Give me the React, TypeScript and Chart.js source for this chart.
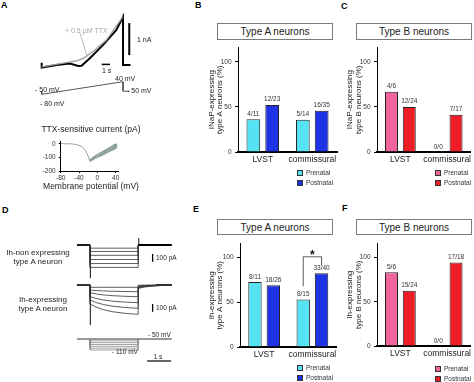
import React, { useEffect, useRef } from "react";
import { Chart, registerables } from "chart.js";
Chart.register(...registerables);

const FONT = "'Liberation Sans', Arial, sans-serif";

// ---------------- Bar chart data (B, C, E, F) ----------------
const groups = ["LVST", "commissural"];
const yTickValues = [0, 50, 100];
const Y_MAX = 116;

const inapTypeAPre = [36.4, 35.7];
const inapTypeAPreLabels = ["4/11", "5/14"];
const inapTypeAPost = [52.2, 45.7];
const inapTypeAPostLabels = ["12/23", "16/35"];

const inapTypeBPre = [66.7, 0];
const inapTypeBPreLabels = ["4/6", "0/0"];
const inapTypeBPost = [50.0, 41.2];
const inapTypeBPostLabels = ["12/24", "7/17"];

const ihTypeAPre = [72.7, 53.3];
const ihTypeAPreLabels = ["8/11", "8/15"];
const ihTypeAPost = [69.2, 82.5];
const ihTypeAPostLabels = ["18/26", "33/40"];

const ihTypeBPre = [83.3, 0];
const ihTypeBPreLabels = ["5/6", "0/0"];
const ihTypeBPost = [62.5, 94.4];
const ihTypeBPostLabels = ["15/24", "17/18"];

const sigGroupIndex = 1;
const sigLevel = 101;
const sigMark = "*";

// ---------------- Panel A data ----------------
// time (s), current (nA)
const ttxRamp = [[0, -0.03], [1.2, 0.03], [2.6, 0.09], [4.2, 0.16], [5.0, 0.24], [6.2, 0.45], [7.8, 0.81], [9.8, 1.54]];
const controlRamp = [[0, 0.1], [0, -0.05], [1.8, 0.03], [3.4, 0.08], [4.4, 0.0], [4.8, 0.01], [5.8, 0.24], [7.4, 0.66], [9.0, 1.13], [9.8, 1.54], [9.8, 0.03], [10.7, 0.03]];
const ttxPointer = [[4.61, 1.03], [5.42, 0.34]];
const nAScaleBar = [[10.55, 0.34], [10.55, 1.34]];
const secScaleBarA = [[7.23, 0.05], [8.23, 0.05]];
// time (s), membrane potential (mV)
const rampProtocol = [[0, -50], [0, -80], [9.8, 40], [9.8, -50], [10.6, -50]];

// TTX-sensitive current: membrane potential (mV), current (pA)
const ttxIV = [
  [-80, 0], [-76, 1], [-72, 0], [-68, -1], [-64, 0], [-60, -1], [-56, -2], [-52, -3], [-48, -5], [-44, -8],
  [-40, -12], [-36, -18], [-32, -27], [-29, -37], [-26, -50], [-24, -62], [-22, -76], [-20, -92], [-18, -110],
  [-17, -124], [-16, -130], [-15, -112], [-14, -128], [-13, -106], [-12, -124], [-11, -100], [-10, -120],
  [-9, -96], [-8, -116], [-7, -90], [-6, -112], [-5, -86], [-4, -108], [-3, -82], [-2, -104], [-1, -78],
  [0, -100], [1, -74], [2, -98], [3, -70], [4, -95], [5, -66], [6, -92], [7, -62], [8, -90], [9, -58],
  [10, -88], [11, -55], [12, -84], [13, -52], [14, -80], [15, -48], [16, -77], [17, -45], [18, -73],
  [19, -40], [20, -70], [21, -36], [22, -66], [23, -32], [24, -62], [25, -28], [26, -58], [27, -25],
  [28, -55], [29, -20], [30, -52], [31, -16], [32, -50], [33, -12], [34, -46], [35, -8], [36, -44],
  [37, -4], [38, -40], [39, -2], [40, -38], [41, 0], [42, -30],
];
const ivXTicks = [-80, -40, 0, 40];
const ivYTicks = [0, -100, -200];

// ---------------- Panel D data ----------------
const stepOn = 0.55;
const stepOff = 2.55;
const sweepEnd = 3.95;
// Ih-non expressing neuron: steady current at each step (pA)
const nonIhLevels = [-41, -84, -134, -188, -241, -291];
const nonIhOnTransient = [[0.56, -41], [0.56, -430]];
const nonIhOffTransient = [[2.55, 0], [2.56, 90], [2.58, 0]];
// Ih-expressing neuron: time (s), current (pA)
const ihSweeps = [
  [[0.55, -30], [0.8, -30], [1.1, -30], [1.5, -30], [2.0, -30], [2.55, -30], [2.55, -4], [2.8, -2], [3.1, -1], [3.5, 0], [3.95, 0]],
  [[0.55, -65], [0.8, -72], [1.1, -77], [1.5, -81], [2.0, -85], [2.55, -87], [2.55, -12], [2.8, -7], [3.1, -4], [3.5, -2], [3.95, 0]],
  [[0.55, -100], [0.8, -116], [1.1, -129], [1.5, -139], [2.0, -147], [2.55, -152], [2.55, -20], [2.8, -12], [3.1, -7], [3.5, -3], [3.95, 0]],
  [[0.55, -152], [0.8, -175], [1.1, -195], [1.5, -211], [2.0, -222], [2.55, -230], [2.55, -28], [2.8, -17], [3.1, -10], [3.5, -4], [3.95, 0]],
  [[0.55, -195], [0.8, -227], [1.1, -254], [1.5, -276], [2.0, -292], [2.55, -303], [2.55, -36], [2.8, -22], [3.1, -13], [3.5, -5], [3.95, 0]],
  [[0.55, -247], [0.8, -287], [1.1, -321], [1.5, -348], [2.0, -368], [2.55, -381], [2.55, -45], [2.8, -27], [3.1, -16], [3.5, -7], [3.95, 0]],
];
const ihOnTransient = [[0.56, -30], [0.56, -520]];
// voltage steps (mV)
const holdingPotential = -50;
const stepPotentials = [-60, -70, -80, -90, -100, -110];
const pAScaleBarUpper = [[3.15, -117], [3.15, -217]];
const pAScaleBarLower = [[3.15, -247], [3.15, -347]];
const secScaleBarD = [[2.92, -170], [3.92, -170]];

// ---------------- Colours ----------------
const C_PRE_A = "#55E3F3";
const C_POST_A = "#1E32E6";
const C_PRE_B = "#F0649E";
const C_POST_B = "#EE1C24";

// ---------------- Helpers ----------------
const pts = (arr: number[][]) => arr.map(([x, y]) => ({ x, y }));
const line = (arr: number[][], color: string, width: number, axis = "y") => ({
  data: pts(arr),
  showLine: true,
  pointRadius: 0,
  borderColor: color,
  borderWidth: width,
  yAxisID: axis,
  fill: false,
  tension: 0,
});
const hidden = (min: number, max: number) => ({ type: "linear", min, max, display: false });
const baseOpts = {
  responsive: false,
  animation: false,
  events: [],
  plugins: { legend: { display: false }, tooltip: { enabled: false } },
};

const barValueLabels = {
  id: "barValueLabels",
  afterDatasetsDraw(chart: any) {
    const ctx = chart.ctx;
    ctx.save();
    ctx.font = `6.5px ${FONT}`;
    ctx.fillStyle = "#333";
    ctx.textAlign = "center";
    ctx.textBaseline = "bottom";
    chart.data.datasets.forEach((ds: any, di: number) => {
      const meta = chart.getDatasetMeta(di);
      meta.data.forEach((bar: any, i: number) => {
        const lbl = ds.valueLabels && ds.valueLabels[i];
        if (lbl) ctx.fillText(lbl, bar.x, bar.y - 2);
      });
    });
    ctx.restore();
  },
};

const sigBracket = {
  id: "sigBracket",
  afterDatasetsDraw(chart: any) {
    const ctx = chart.ctx;
    const y = chart.scales.y;
    const a = chart.getDatasetMeta(0).data[sigGroupIndex];
    const b = chart.getDatasetMeta(1).data[sigGroupIndex];
    const top = y.getPixelForValue(sigLevel);
    ctx.save();
    ctx.strokeStyle = "#333";
    ctx.lineWidth = 0.8;
    ctx.beginPath();
    ctx.moveTo(a.x, a.y - 13);
    ctx.lineTo(a.x, top);
    ctx.lineTo(b.x, top);
    ctx.lineTo(b.x, b.y - 8);
    ctx.stroke();
    ctx.font = `bold 12px ${FONT}`;
    ctx.fillStyle = "#111";
    ctx.textAlign = "center";
    ctx.textBaseline = "alphabetic";
    ctx.fillText(sigMark, (a.x + b.x) / 2, top + 2);
    ctx.restore();
  },
};

function barConfig(p: any) {
  const ds = (label: string, data: number[], color: string, labels: string[]) => ({
    label,
    data,
    backgroundColor: color,
    borderColor: "#222",
    borderWidth: 1,
    valueLabels: labels,
    categoryPercentage: 0.76,
    barPercentage: 0.73,
  });
  return {
    type: "bar",
    data: {
      labels: groups,
      datasets: [ds("Prenatal", p.pre, p.preColor, p.preLabels), ds("Postnatal", p.post, p.postColor, p.postLabels)],
    },
    options: {
      ...baseOpts,
      layout: { padding: { top: p.padTop, right: p.padRight, left: 0, bottom: 0 } },
      scales: {
        x: {
          grid: { display: false, drawTicks: false },
          border: { display: true, color: "#000", width: 2 },
          ticks: { font: { family: FONT, size: 8.5 }, color: "#222", padding: 3, maxRotation: 0, autoSkip: false },
          afterFit: (s: any) => { s.height = p.xHeight; },
        },
        y: {
          min: 0,
          max: Y_MAX,
          grid: { display: true, drawOnChartArea: false, drawTicks: true, tickLength: 3, color: "#000" },
          border: { display: true, color: "#000", width: 1 },
          ticks: { font: { family: FONT, size: 6.5 }, color: "#333", padding: 3.5 },
          afterBuildTicks: (s: any) => { s.ticks = yTickValues.map((v) => ({ value: v })); },
          afterFit: (s: any) => { s.width = p.yWidth; },
          title: {
            display: true,
            text: p.yTitle,
            font: { family: FONT, size: 8, lineHeight: 1.05 },
            color: "#222",
            padding: { top: p.titlePad, bottom: 0 },
          },
        },
      },
    },
    plugins: p.bracket ? [barValueLabels, sigBracket] : [barValueLabels],
  };
}

const rampConfig = {
  type: "scatter",
  data: {
    datasets: [
      line(ttxRamp, "#9c9c9c", 1.3),
      line(controlRamp, "#000", 2),
      line(ttxPointer, "#aaa", 0.8),
      line(nAScaleBar, "#000", 2),
      line(secScaleBarA, "#000", 1.5),
      line(rampProtocol, "#555", 1, "yV"),
    ],
  },
  options: {
    ...baseOpts,
    layout: { padding: 0 },
    scales: { x: hidden(-1.41, 13.05), y: hidden(-1.125, 1.75), yV: hidden(-153.3, 722.9) },
  },
};

const ivConfig = {
  type: "scatter",
  data: { datasets: [line(ttxIV, "#8fa39b", 1)] },
  options: {
    ...baseOpts,
    layout: { padding: { top: 19, right: 37, left: 0, bottom: 0 } },
    scales: {
      x: {
        type: "linear",
        min: -80,
        max: 45,
        grid: { display: true, drawOnChartArea: false, drawTicks: true, tickLength: 2, color: "#000" },
        border: { display: true, color: "#000", width: 1 },
        ticks: { font: { family: FONT, size: 6.5 }, color: "#333", padding: 1 },
        afterBuildTicks: (s: any) => { s.ticks = ivXTicks.map((v) => ({ value: v })); },
        afterFit: (s: any) => { s.height = 21; },
      },
      y: {
        type: "linear",
        min: -200,
        max: 20,
        grid: { display: true, drawOnChartArea: false, drawTicks: true, tickLength: 2, color: "#000" },
        border: { display: true, color: "#000", width: 1 },
        ticks: { font: { family: FONT, size: 6.5 }, color: "#333", padding: 3 },
        afterBuildTicks: (s: any) => { s.ticks = ivYTicks.map((v) => ({ value: v })); },
        afterFit: (s: any) => { s.width = 35.7; },
      },
    },
  },
};

const stepTrace = (level: number) => [[stepOn, 0], [stepOn, level], [stepOff, level], [stepOff, 0]];
const protocolTrace = (level: number) => [[stepOn, holdingPotential], [stepOn, level], [stepOff, level], [stepOff, holdingPotential]];

const dConfig = {
  type: "scatter",
  data: {
    datasets: [
      ...nonIhLevels.map((l) => line(stepTrace(l), "#333", 0.8, "yU")),
      line([[0, 0], [stepOn, 0]], "#000", 1.8, "yU"),
      line([[stepOff, 0], [sweepEnd, 0]], "#000", 1.8, "yU"),
      line(nonIhOnTransient, "#333", 0.8, "yU"),
      line(nonIhOffTransient, "#333", 0.8, "yU"),
      line(pAScaleBarUpper, "#000", 1.3, "yU"),
      ...ihSweeps.map((s) => line([[0, 0], [stepOn, 0], ...s], "#333", 0.8, "yL")),
      line([[0, 0], [stepOn, 0]], "#000", 1.8, "yL"),
      line([[3.3, 0], [sweepEnd, 0]], "#000", 1.8, "yL"),
      line(ihOnTransient, "#333", 0.8, "yL"),
      line(pAScaleBarLower, "#000", 1.3, "yL"),
      ...stepPotentials.map((v) => line(protocolTrace(v), "#8a8a8a", 0.8, "yP")),
      line([[0, holdingPotential], [sweepEnd, holdingPotential]], "#333", 1, "yP"),
      line(secScaleBarD, "#000", 1.2, "yP"),
    ],
  },
  options: {
    ...baseOpts,
    layout: { padding: 0 },
    scales: { x: hidden(-0.29, 4.29), yU: hidden(-1623.4, 194.8), yL: hidden(-1103.9, 714.3), yP: hidden(-219.1, 544.6) },
  },
};

// ---------------- Components ----------------
function ChartCanvas({ left, top, width, height, config }: any) {
  const ref = useRef<HTMLCanvasElement | null>(null);
  useEffect(() => {
    const chart = new Chart(ref.current as HTMLCanvasElement, config);
    return () => chart.destroy();
  }, []);
  return (
    <canvas
      ref={ref}
      width={width}
      height={height}
      style={{ position: "absolute", left, top, width, height }}
    />
  );
}

function Txt({ x, y, children, size = 7, color = "#222", anchor = "start", bold = false }: any) {
  const tx = anchor === "middle" ? "-50%" : anchor === "end" ? "-100%" : "0";
  return (
    <div
      style={{
        position: "absolute",
        left: x,
        top: y,
        transform: `translate(${tx}, -50%)`,
        fontSize: size,
        lineHeight: 1,
        color,
        fontWeight: bold ? "bold" : "normal",
        whiteSpace: "nowrap",
        fontFamily: FONT,
      }}
    >
      {children}
    </div>
  );
}

function TitleBox({ left, top, width, height, text }: any) {
  return (
    <div
      style={{
        position: "absolute",
        left,
        top,
        width,
        height,
        boxSizing: "border-box",
        border: "1px solid #7a7a7a",
        display: "flex",
        alignItems: "center",
        justifyContent: "center",
        fontFamily: FONT,
        fontSize: 10,
        color: "#222",
        background: "#fff",
      }}
    >
      {text}
    </div>
  );
}

function Legend({ left, top, preColor, postColor }: any) {
  const item = (color: string, label: string, dy: number) => (
    <div style={{ position: "absolute", left: 0, top: dy, display: "flex", alignItems: "center", whiteSpace: "nowrap" }}>
      <div style={{ width: 6, height: 6, boxSizing: "border-box", border: "1px solid #333", background: color }} />
      <span style={{ marginLeft: 3, fontSize: 6.5, lineHeight: "6px", color: "#333", fontFamily: FONT }}>{label}</span>
    </div>
  );
  return (
    <div style={{ position: "absolute", left, top }}>
      {item(preColor, "Prenatal", 0)}
      {item(postColor, "Postnatal", 9.5)}
    </div>
  );
}

export default function App() {
  return (
    <div
      style={{
        position: "fixed",
        left: 0,
        top: 0,
        width: 474,
        height: 382,
        background: "#fff",
        overflow: "hidden",
        fontFamily: FONT,
      }}
    >
      {/* Panel letters */}
      <Txt x={1} y={5} size={9} bold color="#000">A</Txt>
      <Txt x={195} y={5} size={9} bold color="#000">B</Txt>
      <Txt x={341} y={6} size={9} bold color="#000">C</Txt>
      <Txt x={2} y={210} size={9} bold color="#000">D</Txt>
      <Txt x={193} y={209} size={9} bold color="#000">E</Txt>
      <Txt x={342} y={208} size={9} bold color="#000">F</Txt>

      {/* Panel A */}
      <ChartCanvas left={30} top={10} width={120} height={92} config={rampConfig} />
      <Txt x={65} y={30} size={7} color="#a8a8a8">+ 0.5 µM TTX</Txt>
      <Txt x={137} y={39} size={7}>1 nA</Txt>
      <Txt x={102} y={70} size={7}>1 s</Txt>
      <Txt x={35} y={89} size={7}>- 50 mV</Txt>
      <Txt x={40} y={103} size={7}>- 80 mV</Txt>
      <Txt x={115} y={78} size={7}>40 mV</Txt>
      <Txt x={127} y={90} size={7}>- 50 mV</Txt>
      <Txt x={91} y={129} size={8.5} anchor="middle">TTX-sensitive current (pA)</Txt>
      <ChartCanvas left={25} top={122} width={130} height={70} config={ivConfig} />
      <Txt x={91} y={186} size={8.5} anchor="middle">Membrane potential (mV)</Txt>

      {/* Panel B */}
      <TitleBox left={217} top={23} width={116} height={17} text="Type A neurons" />
      <ChartCanvas
        left={180}
        top={40}
        width={160}
        height={135}
        config={barConfig({
          pre: inapTypeAPre, post: inapTypeAPost, preLabels: inapTypeAPreLabels, postLabels: inapTypeAPostLabels,
          preColor: C_PRE_A, postColor: C_POST_A, yTitle: ["INaP-expressing", "type A neurons (%)"],
          padTop: 5, padRight: 3, xHeight: 23, yWidth: 58, titlePad: 27.5,
        })}
      />
      <Legend left={297} top={170} preColor={C_PRE_A} postColor={C_POST_A} />

      {/* Panel C */}
      <TitleBox left={356} top={23} width={116} height={17} text="Type B neurons" />
      <ChartCanvas
        left={320}
        top={40}
        width={154}
        height={135}
        config={barConfig({
          pre: inapTypeBPre, post: inapTypeBPost, preLabels: inapTypeBPreLabels, postLabels: inapTypeBPostLabels,
          preColor: C_PRE_B, postColor: C_POST_B, yTitle: ["INaP-expressing", "type B neurons (%)"],
          padTop: 5, padRight: 0, xHeight: 23, yWidth: 57, titlePad: 26,
        })}
      />
      <Legend left={435} top={170} preColor={C_PRE_B} postColor={C_POST_B} />

      {/* Panel D */}
      <ChartCanvas left={70} top={230} width={110} height={140} config={dConfig} />
      <Txt x={38} y={253} size={8} anchor="middle">Ih-non expressing</Txt>
      <Txt x={38} y={262} size={8} anchor="middle">type A neuron</Txt>
      <Txt x={43} y={300} size={8} anchor="middle">Ih-expressing</Txt>
      <Txt x={43} y={309} size={8} anchor="middle">type A neuron</Txt>
      <Txt x={156} y={258} size={6.5}>100 pA</Txt>
      <Txt x={156} y={308} size={6.5}>100 pA</Txt>
      <Txt x={148} y={335} size={6.5}>- 50 mV</Txt>
      <Txt x={112} y={352} size={6.5}>- 110 mV</Txt>
      <Txt x={158} y={357} size={6.5} anchor="middle">1 s</Txt>

      {/* Panel E */}
      <TitleBox left={217} top={219} width={116} height={16} text="Type A neurons" />
      <ChartCanvas
        left={180}
        top={236}
        width={160}
        height={135}
        config={barConfig({
          pre: ihTypeAPre, post: ihTypeAPost, preLabels: ihTypeAPreLabels, postLabels: ihTypeAPostLabels,
          preColor: C_PRE_A, postColor: C_POST_A, yTitle: ["Ih-expressing", "type A neurons (%)"],
          padTop: 5, padRight: 3, xHeight: 24, yWidth: 60, titlePad: 27.5, bracket: true,
        })}
      />
      <Legend left={297} top={365} preColor={C_PRE_A} postColor={C_POST_A} />

      {/* Panel F */}
      <TitleBox left={356} top={219} width={116} height={16} text="Type B neurons" />
      <ChartCanvas
        left={320}
        top={236}
        width={154}
        height={135}
        config={barConfig({
          pre: ihTypeBPre, post: ihTypeBPost, preLabels: ihTypeBPreLabels, postLabels: ihTypeBPostLabels,
          preColor: C_PRE_B, postColor: C_POST_B, yTitle: ["Ih-expressing", "type B neurons (%)"],
          padTop: 4, padRight: 0, xHeight: 25, yWidth: 57, titlePad: 26,
        })}
      />
      <Legend left={435} top={366} preColor={C_PRE_B} postColor={C_POST_B} />
    </div>
  );
}
